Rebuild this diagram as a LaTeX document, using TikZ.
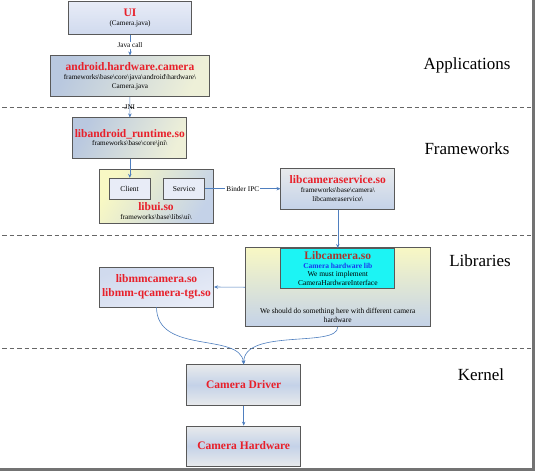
\documentclass[tikz,border=0pt]{standalone}
\usepackage{fontspec}
\setmainfont{Liberation Serif}
\usetikzlibrary{arrows.meta}
\definecolor{tred}{HTML}{E8202A}
\definecolor{tbrown}{HTML}{A8362E}
\definecolor{tblue}{HTML}{1838F0}
\definecolor{conncol}{HTML}{4F7FBF}
\definecolor{bluegray}{HTML}{B9C8DF}
\definecolor{paleyel}{HTML}{EEF0D8}
\definecolor{lavlight}{HTML}{E8ECF7}
\definecolor{lavdark}{HTML}{D0DAEE}
\definecolor{yel}{HTML}{F8F8C4}
\definecolor{bluemid}{HTML}{C4D2E8}
\definecolor{greylight}{HTML}{E8EAEC}
\definecolor{cyanbox}{HTML}{1CF4F4}
\newcommand\bsl{\textbackslash{}}
\newcommand\boxtitle[1]{{\fontsize{11.5}{13}\selectfont\bfseries\color{tred}#1}}
\tikzset{
  box/.style={draw=black!65, line width=0.7pt, rectangle, inner sep=1pt, align=center,
    font=\fontsize{7.2}{8.7}\selectfont},
  diagbox/.style={box, left color=bluegray, right color=paleyel, shading angle=65},
  vbox/.style={box, top color=greylight, bottom color=greylight, middle color=bluemid},
  conn/.style={draw=conncol, line width=0.6pt, -{Stealth[length=4pt,width=3.5pt]}},
  lbl/.style={font=\fontsize{7.2}{8}\selectfont, inner sep=1pt},
  sep/.style={draw=black!60, line width=0.7pt, dash pattern=on 4.5pt off 3pt},
  layer/.style={font=\fontsize{17}{20}\selectfont}
}
\begin{document}
\begin{tikzpicture}[x=1pt,y=-1pt]
\useasboundingbox (0,0) rectangle (537,472);
% separators
\draw[sep] (2,107) -- (531,107);
\draw[sep] (2,235) -- (531,235);
\draw[sep] (2,348) -- (531,348);
% frame shadow
\draw[line width=2.5pt, black!55] (533.5,0) -- (533.5,469.5) -- (0,469.5);
% layer names
\node[layer] (lApp) at (467,65) {Applications};
\node[layer] (lFw) at (467,149) {Frameworks};
\node[layer] (lLib) at (480,261) {Libraries};
\node[layer] (lKer) at (481,375) {Kernel};
% boxes
\node[box, top color=lavlight, bottom color=lavdark, minimum width=123pt, minimum height=33pt] (UI) at (130,18)
  {\boxtitle{UI}\\[1pt](Camera.java)};
\node[diagbox, minimum width=159pt, minimum height=41pt] (AHC) at (130,76.3)
  {\boxtitle{android.hardware.camera}\\frameworks\bsl base\bsl core\bsl java\bsl android\bsl hardware\bsl\\Camera.java};
\node[diagbox, minimum width=114pt, minimum height=41pt] (LAR) at (129.8,138.3)
  {\boxtitle{libandroid\_runtime.so}\\frameworks\bsl base\bsl core\bsl jni\bsl};
\node[box, left color=yel, right color=bluemid, shading angle=60, minimum width=114.4pt, minimum height=54pt] (LUI) at (156.5,196.7) {};
\node[box, fill=lavlight, minimum width=41pt, minimum height=21pt, font=\fontsize{7.5}{9}\selectfont] (Client) at (129.6,188.7) {Client};
\node[box, fill=lavlight, minimum width=41pt, minimum height=21pt, font=\fontsize{7.5}{9}\selectfont] (Service) at (184.2,188.7) {Service};
\node[align=center, font=\fontsize{7.2}{8.7}\selectfont, inner sep=0pt] (LUIt) at (156,211)
  {\boxtitle{libui.so}\\frameworks\bsl base\bsl libs\bsl ui\bsl};
\node[box, top color=greylight, bottom color=bluemid, minimum width=114pt, minimum height=41pt] (LCS) at (337.8,188.7)
  {\boxtitle{libcameraservice.so}\\frameworks\bsl base\bsl camera\bsl\\libcameraservice\bsl};
\node[box, top color=yel, bottom color=bluemid, minimum width=185pt, minimum height=79pt] (LCO) at (337.7,287.2) {};
\node[box, fill=cyanbox, minimum width=114pt, minimum height=40.4pt, font=\fontsize{7.5}{8.6}\selectfont] (Cyan) at (337.8,268.5)
  {{\fontsize{11.5}{12}\selectfont\bfseries\color{tbrown}Libcamera.so}\\{\bfseries\color{tblue}Camera hardware lib}\\We must implement\\CameraHardwareInterface};
\node[align=center, font=\fontsize{7.5}{9}\selectfont, inner sep=0pt] (LCOt) at (337.7,315.5)
  {We should do something here with different camera\\hardware};
\node[box, left color=lavdark, right color=lavlight, shading angle=20, minimum width=114.4pt, minimum height=40pt] (LMM) at (156.5,287)
  {\boxtitle{libmmcamera.so}\\[5.5pt]\boxtitle{libmm-qcamera-tgt.so}};
\node[vbox, minimum width=114pt, minimum height=40.6pt] (Drv) at (243.7,385) {\boxtitle{Camera Driver}};
\node[vbox, minimum width=114pt, minimum height=40pt] (Hw) at (243.7,446) {\boxtitle{Camera Hardware}};
% connectors
\draw[conn] (UI) -- node[lbl, fill=white] (jc) {Java call} (AHC);
\draw[conn] (AHC) -- node[lbl] (jni) {JNI} (LAR);
\draw[conn] (LAR.south) -- (LAR.south |- Client.north);
\draw[conn] (Service) -- node[lbl, fill=white] (bipc) {Binder IPC} (LCS);
\draw[conn] (LCS.south) -- (Cyan.north);
\draw[conn] (LCO.west) -- (LMM.east);
\draw[conn] (LMM.south) .. controls (157,355) and (240,332) .. (Drv.north);
\draw[conn] (LCO.south) .. controls (338,348) and (244,328) .. (Drv.north);
\draw[conn] (Drv) -- (Hw);
\end{tikzpicture}
\end{document}
